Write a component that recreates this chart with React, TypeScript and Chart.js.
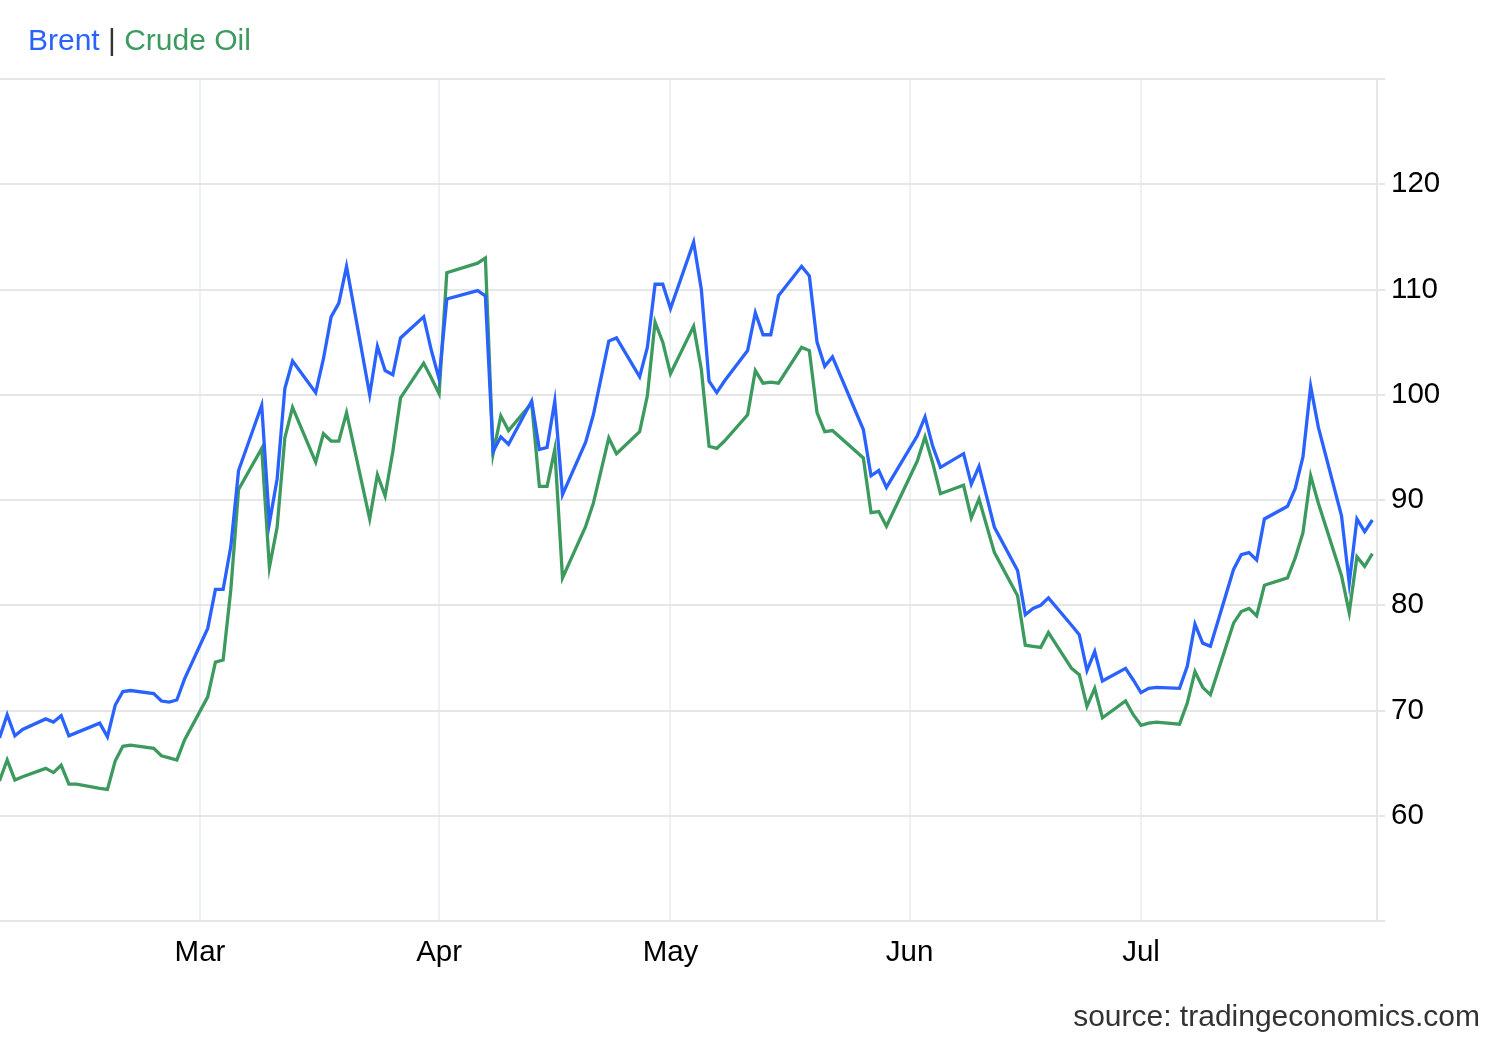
import { useEffect, useRef } from 'react';
import { Chart, registerables } from 'chart.js';
import type { Chart as ChartType, Plugin } from 'chart.js';

Chart.register(...registerables);

// trading days, as day of the year (0 = Jan 1)
const days = [
  33, 34, 35, 36,
  39, 40, 41, 42, 43,
  46, 47, 48, 49, 50,
  53, 54, 55, 56, 57,
  60, 61, 62, 63, 64,
  67, 68, 69, 70, 71,
  74, 75, 76, 77, 78,
  81, 82, 83, 84, 85,
  88, 89, 90, 91,
  95, 96, 97, 98, 99,
  102, 103, 104, 105, 106,
  109, 110, 111, 112, 113,
  116, 117, 118, 119, 120,
  123, 124, 125, 126, 127,
  130, 131, 132, 133, 134,
  137, 138, 139, 140, 141,
  145, 146, 147, 148,
  152, 153, 154, 155,
  158, 159, 160, 162,
  165, 166, 167, 168, 169,
  172, 173, 174, 175, 176,
  179, 180, 181, 182, 183,
  186, 187, 188, 189, 190,
  193, 194, 195, 196, 197,
  200, 201, 202, 203, 204,
  207, 208, 209, 210, 211,
];

const brent = [
  67.4, 69.6, 67.6, 68.2,
  69.2, 68.9, 69.5, 67.6, 67.9,
  68.8, 67.5, 70.5, 71.8, 71.9,
  71.6, 70.9, 70.8, 71.0, 73.0,
  77.8, 81.5, 81.5, 85.6, 92.8,
  99.0, 87.8, 92.0, 100.6, 103.2,
  100.2, 103.4, 107.4, 108.7, 112.2,
  100.0, 104.6, 102.3, 101.9, 105.4,
  107.4, 104.2, 101.5, 109.1,
  109.9, 109.4, 94.6, 96.0, 95.3,
  99.4, 94.8, 95.0, 99.4, 90.5,
  95.5, 98.1, 101.6, 105.1, 105.4,
  101.7, 104.5, 110.5, 110.5, 108.2,
  114.5, 110.0, 101.3, 100.2, 101.3,
  104.2, 107.8, 105.7, 105.7, 109.4,
  112.2, 111.3, 105.0, 102.7, 103.6,
  96.7, 92.3, 92.8, 91.2,
  96.1, 97.9, 95.1, 93.1,
  94.4, 91.5, 93.2, 87.4,
  83.3, 79.1, 79.7, 80.0, 80.7,
  78.1, 77.2, 73.8, 75.6, 72.8,
  74.0, 72.9, 71.7, 72.1, 72.2,
  72.1, 74.2, 78.2, 76.4, 76.1,
  83.4, 84.8, 85.0, 84.3, 88.2,
  89.4, 91.1, 94.1, 100.8, 96.9,
  88.5, 82.1, 88.2, 87.0, 88.1,
];

const crudeOil = [
  63.3, 65.3, 63.4, 63.7,
  64.5, 64.1, 64.8, 63.0, 63.0,
  62.6, 62.5, 65.2, 66.6, 66.7,
  66.4, 65.7, 65.5, 65.3, 67.2,
  71.3, 74.6, 74.8, 81.5, 91.0,
  94.9, 83.6, 87.4, 95.9, 98.8,
  93.6, 96.3, 95.6, 95.6, 98.3,
  88.2, 92.4, 90.4, 94.6, 99.7,
  103.0, 101.6, 100.1, 111.6,
  112.5, 113.0, 94.4, 98.0, 96.6,
  99.2, 91.3, 91.3, 94.8, 82.6,
  87.5, 89.7, 92.8, 95.9, 94.4,
  96.5, 99.9, 106.9, 105.0, 102.0,
  106.5, 102.4, 95.1, 94.9, 95.6,
  98.1, 102.3, 101.1, 101.2, 101.1,
  104.5, 104.2, 98.3, 96.5, 96.6,
  94.0, 88.8, 88.9, 87.5,
  93.7, 96.0, 93.5, 90.6,
  91.4, 88.3, 90.1, 85.0,
  80.9, 76.2, 76.1, 76.0, 77.4,
  74.0, 73.4, 70.4, 72.1, 69.3,
  70.9, 69.6, 68.6, 68.8, 68.9,
  68.7, 70.7, 73.7, 72.2, 71.5,
  78.3, 79.4, 79.7, 79.0, 81.9,
  82.6, 84.5, 86.9, 92.3, 89.7,
  82.8, 79.3, 84.6, 83.7, 84.9,
];

const monthStarts = [59, 90, 120, 151, 181];
const monthLabels = ['Mar', 'Apr', 'May', 'Jun', 'Jul'];
const hiddenYTicks = [50, 130];

const BLUE = '#2962ff';
const GREEN = '#3d9a5f';
const FONT = '"Liberation Sans", Arial, sans-serif';

const textPlugin: Plugin<'line'> = {
  id: 'headerFooter',
  afterDraw(chart) {
    const ctx = chart.ctx;
    ctx.save();
    ctx.font = `30px ${FONT}`;
    ctx.textBaseline = 'alphabetic';
    ctx.textAlign = 'left';
    let x = 28;
    const parts: [string, string][] = [['Brent', BLUE], [' | ', '#333333'], ['Crude Oil', GREEN]];
    for (const [t, c] of parts) {
      ctx.fillStyle = c;
      ctx.fillText(t, x, 50);
      x += ctx.measureText(t).width;
    }
    ctx.fillStyle = '#333333';
    ctx.textAlign = 'right';
    ctx.fillText('source: tradingeconomics.com', 1480, 1026);
    ctx.restore();
  },
};

function OilChart() {
  const chartRef = useRef<HTMLCanvasElement>(null);
  const chartInstanceRef = useRef<ChartType | null>(null);

  useEffect(() => {
    if (!chartRef.current) return;
    const ctx = chartRef.current.getContext('2d');
    if (!ctx) return;

    chartInstanceRef.current = new Chart(ctx, {
      type: 'line',
      data: {
        datasets: [
          {
            label: 'Brent',
            data: days.map((d, i) => ({ x: d, y: brent[i] })),
            borderColor: BLUE,
            borderWidth: 3.3,
            pointRadius: 0,
            tension: 0,
          },
          {
            label: 'Crude Oil',
            data: days.map((d, i) => ({ x: d, y: crudeOil[i] })),
            borderColor: GREEN,
            borderWidth: 3.3,
            pointRadius: 0,
            tension: 0,
          },
        ],
      },
      options: {
        responsive: false,
        animation: false,
        layout: { padding: { top: 79, left: 0, right: 0, bottom: 0 } },
        scales: {
          x: {
            type: 'linear',
            position: 'bottom',
            min: 33.07,
            max: 211.6,
            afterBuildTicks: (scale) => {
              scale.ticks = monthStarts.map((v) => ({ value: v }));
            },
            afterFit: (scale) => {
              scale.height = 119;
            },
            ticks: {
              autoSkip: false,
              maxRotation: 0,
              padding: 14,
              color: '#000000',
              font: { family: FONT, size: 29.5 },
              callback: (value) => monthLabels[monthStarts.indexOf(Number(value))] ?? '',
            },
            grid: { color: '#edf1f6', lineWidth: 2, drawTicks: false },
            border: { display: false },
          },
          y: {
            type: 'linear',
            position: 'right',
            min: 50,
            max: 130,
            afterFit: (scale) => {
              scale.width = 123;
            },
            ticks: {
              stepSize: 10,
              padding: 6,
              color: '#000000',
              font: { family: FONT, size: 29.5 },
              callback: (value) => (hiddenYTicks.includes(Number(value)) ? '' : String(value)),
            },
            grid: { color: '#e6e6e6', lineWidth: 2, tickLength: 8, drawTicks: true },
            border: { color: '#e6e6e6', width: 2 },
          },
        },
        plugins: {
          legend: { display: false },
          tooltip: { enabled: false },
        },
      },
      plugins: [textPlugin],
    });

    return () => {
      if (chartInstanceRef.current) {
        chartInstanceRef.current.destroy();
        chartInstanceRef.current = null;
      }
    };
  }, []);

  return <canvas ref={chartRef} width={1500} height={1040} />;
}

export default function App() {
  return (
    <div style={{ position: 'absolute', left: 0, top: 0, width: 1500, height: 1040, background: '#ffffff' }}>
      <OilChart />
    </div>
  );
}
